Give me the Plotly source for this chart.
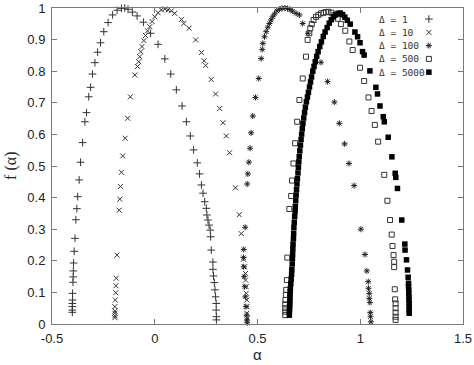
import plotly.graph_objects as go

# ---------------- data ----------------
labels = ["Δ = 1", "Δ = 10", "Δ = 100", "Δ = 500", "Δ = 5000"]

alpha_1 = [-0.401, -0.401, -0.401, -0.401, -0.400, -0.400, -0.398, -0.397, -0.396, -0.395,
           -0.392, -0.388, -0.384, -0.379, -0.375, -0.368, -0.361, -0.351, -0.340, -0.332,
           -0.321, -0.312, -0.303, -0.291, -0.278, -0.264, -0.248, -0.227, -0.205, -0.183,
           -0.162, -0.146,
           -0.130, -0.109, -0.086, -0.055, -0.020, 0.016, 0.049, 0.078, 0.105, 0.133,
           0.154, 0.173, 0.189, 0.207, 0.218, 0.227, 0.235, 0.243, 0.251, 0.254,
           0.259, 0.264, 0.270, 0.272, 0.275, 0.283, 0.283, 0.286, 0.290, 0.293,
           0.296, 0.299, 0.299, 0.300, 0.300]
f_1 = [0.037, 0.044, 0.055, 0.065, 0.076, 0.097, 0.132, 0.149, 0.168, 0.193,
       0.230, 0.271, 0.330, 0.365, 0.403, 0.456, 0.512, 0.574, 0.640, 0.669,
       0.719, 0.749, 0.791, 0.827, 0.860, 0.890, 0.925, 0.954, 0.978, 0.993,
       0.999, 1.000,
       0.996, 0.987, 0.975, 0.955, 0.920, 0.885, 0.839, 0.791, 0.741, 0.690,
       0.640, 0.595, 0.551, 0.510, 0.475, 0.440, 0.414, 0.387, 0.366, 0.345,
       0.329, 0.313, 0.297, 0.276, 0.234, 0.196, 0.173, 0.152, 0.131, 0.108,
       0.086, 0.065, 0.044, 0.023, 0.013]

alpha_10 = [-0.194, -0.194, -0.194, -0.194, -0.194, -0.192, -0.190, -0.189, -0.187, -0.184,
            -0.173, -0.170, -0.167, -0.162, -0.156, -0.144, -0.132, -0.119, -0.097, -0.084,
            -0.078, -0.073, -0.068, -0.062, -0.053, -0.045, -0.035, -0.024, -0.013, 0.000,
            0.016, 0.032, 0.049,
            0.065, 0.081, 0.097, 0.130, 0.141, 0.167, 0.199, 0.227, 0.240, 0.248,
            0.275, 0.296, 0.316, 0.332, 0.348, 0.364, 0.393, 0.411, 0.421, 0.432,
            0.437, 0.442, 0.442, 0.445, 0.445, 0.448, 0.448, 0.448, 0.450]
f_10 = [0.020, 0.026, 0.034, 0.041, 0.055, 0.076, 0.099, 0.121, 0.145, 0.218,
        0.360, 0.395, 0.435, 0.480, 0.532, 0.588, 0.651, 0.719, 0.788, 0.815,
        0.830, 0.846, 0.862, 0.878, 0.897, 0.913, 0.928, 0.941, 0.957, 0.972,
        0.985, 0.994, 0.997,
        0.994, 0.991, 0.983, 0.964, 0.951, 0.936, 0.899, 0.859, 0.833, 0.818,
        0.774, 0.728, 0.682, 0.637, 0.595, 0.542, 0.431, 0.346, 0.286, 0.205,
        0.181, 0.160, 0.139, 0.118, 0.097, 0.076, 0.055, 0.034, 0.018]

alpha_100 = [0.450, 0.449, 0.447, 0.444, 0.441, 0.438, 0.435, 0.433, 0.432, 0.433,
             0.440, 0.450, 0.453, 0.458, 0.464, 0.469, 0.477, 0.490, 0.506, 0.518,
             0.523, 0.526, 0.534, 0.542, 0.550, 0.558, 0.566, 0.574, 0.583, 0.594,
             0.607, 0.620, 0.633, 0.646, 0.659,
             0.671, 0.688, 0.704, 0.720, 0.746, 0.809, 0.841, 0.874, 0.898, 0.924,
             0.945, 0.970, 1.003, 1.023, 1.032, 1.039, 1.040, 1.044, 1.044, 1.047,
             1.049, 1.050, 1.052]
f_100 = [0.004, 0.013, 0.028, 0.055, 0.086, 0.118, 0.150, 0.181, 0.210, 0.236,
         0.306, 0.443, 0.475, 0.512, 0.556, 0.605, 0.658, 0.717, 0.777, 0.840,
         0.869, 0.888, 0.909, 0.925, 0.939, 0.951, 0.962, 0.972, 0.981, 0.991,
         0.996, 0.999, 1.000, 0.998, 0.995,
         0.990, 0.983, 0.978, 0.951, 0.920, 0.828, 0.767, 0.702, 0.635, 0.570,
         0.508, 0.438, 0.300, 0.220, 0.168, 0.134, 0.113, 0.097, 0.081, 0.068,
         0.036, 0.023, 0.007]

alpha_500 = [0.635, 0.635, 0.635, 0.635, 0.636, 0.638, 0.640, 0.643, 0.645, 0.655,
             0.664, 0.668, 0.675, 0.683, 0.693, 0.704, 0.720, 0.736, 0.744, 0.752,
             0.757, 0.764, 0.773, 0.785, 0.796, 0.809, 0.822, 0.833, 0.845,
             0.860, 0.875, 0.890, 0.906, 0.927, 0.947, 0.963, 0.999, 1.019, 1.040,
             1.055, 1.071, 1.087, 1.117, 1.132, 1.145, 1.153, 1.157, 1.162, 1.165,
             1.165, 1.168, 1.170, 1.172, 1.172, 1.172, 1.172, 1.172]
f_500 = [0.028, 0.039, 0.050, 0.062, 0.076, 0.092, 0.108, 0.139, 0.210, 0.364,
         0.405, 0.454, 0.508, 0.572, 0.640, 0.709, 0.777, 0.846, 0.899, 0.920,
         0.936, 0.949, 0.962, 0.972, 0.978, 0.983, 0.985, 0.987, 0.988,
         0.985, 0.978, 0.966, 0.949, 0.928, 0.894, 0.867, 0.811, 0.769, 0.717,
         0.674, 0.630, 0.577, 0.472, 0.390, 0.329, 0.283, 0.247, 0.218, 0.197,
         0.180, 0.110, 0.078, 0.065, 0.050, 0.036, 0.023, 0.013]

alpha_5000 = [0.655, 0.655, 0.656, 0.656, 0.657, 0.657, 0.658, 0.658, 0.659, 0.660,
              0.662, 0.664, 0.666, 0.667, 0.669, 0.670, 0.671, 0.672, 0.673, 0.675,
              0.676, 0.677, 0.679, 0.681, 0.683, 0.684, 0.686, 0.688, 0.690, 0.692,
              0.694, 0.697, 0.699, 0.701, 0.703, 0.706, 0.709, 0.712, 0.715, 0.718,
              0.721, 0.725, 0.729, 0.733, 0.738, 0.743, 0.748, 0.753, 0.758, 0.763,
              0.769, 0.775, 0.781, 0.788, 0.795, 0.803, 0.811, 0.820, 0.829, 0.839,
              0.849, 0.859, 0.870, 0.881, 0.892, 0.903,
              0.914, 0.925, 0.937, 0.951, 0.974, 0.987, 0.999, 1.011, 1.019, 1.047,
              1.076, 1.084, 1.096, 1.112, 1.117, 1.136, 1.154, 1.170, 1.173, 1.181,
              1.202, 1.217, 1.218, 1.225, 1.230, 1.233, 1.235, 1.235, 1.236, 1.236,
              1.237, 1.237, 1.238, 1.238, 1.238, 1.238]
f_5000 = [0.028, 0.037, 0.046, 0.055, 0.064, 0.073, 0.083, 0.093, 0.103, 0.113,
          0.128, 0.142, 0.157, 0.172, 0.190, 0.207, 0.222, 0.238, 0.253, 0.270,
          0.287, 0.305, 0.322, 0.340, 0.357, 0.372, 0.390, 0.408, 0.425, 0.443,
          0.460, 0.478, 0.496, 0.513, 0.530, 0.548, 0.566, 0.584, 0.601, 0.618,
          0.635, 0.652, 0.669, 0.686, 0.703, 0.718, 0.733, 0.750, 0.766, 0.782,
          0.800, 0.815, 0.830, 0.847, 0.862, 0.878, 0.893, 0.910, 0.924, 0.938,
          0.952, 0.963, 0.972, 0.979, 0.983, 0.984,
          0.979, 0.971, 0.961, 0.949, 0.924, 0.909, 0.890, 0.862, 0.851, 0.801,
          0.749, 0.728, 0.690, 0.656, 0.640, 0.591, 0.529, 0.477, 0.464, 0.429,
          0.329, 0.253, 0.234, 0.203, 0.171, 0.148, 0.129, 0.118, 0.108, 0.097,
          0.086, 0.076, 0.065, 0.055, 0.044, 0.034]

x_ticks = [-0.5, 0, 0.5, 1, 1.5]
x_ticktext = ["-0.5", "0", "0.5", "1", "1.5"]
y_ticks = [0, 0.1, 0.2, 0.3, 0.4, 0.5, 0.6, 0.7, 0.8, 0.9, 1]
y_ticktext = ["0", "0.1", "0.2", "0.3", "0.4", "0.5", "0.6", "0.7", "0.8", "0.9", "1"]
x_title = "α"
y_title = "f (α)"

# ---------------- styles ----------------
series = [
    (alpha_1, f_1, dict(symbol="cross-thin-open", size=5.5, color="#333", line=dict(width=1, color="#333"))),
    (alpha_10, f_10, dict(symbol="x-thin-open", size=5, color="#333", line=dict(width=1, color="#333"))),
    (alpha_100, f_100, dict(symbol="asterisk-open", size=5, color="#222", line=dict(width=1, color="#222"))),
    (alpha_500, f_500, dict(symbol="square-open", size=5, color="#333", line=dict(width=1, color="#333"))),
    (alpha_5000, f_5000, dict(symbol="square", size=5.5, color="#000", line=dict(width=0))),
]

fig = go.Figure()
for (xs, ys, mk), name in zip(series, labels):
    fig.add_trace(go.Scatter(x=xs, y=ys, mode="markers", marker=mk, name=name,
                             showlegend=False, cliponaxis=False, hoverinfo="skip"))

# legend (keys on an overlay 0..1 axis, text as annotations)
key_x = 0.917
text_x = 0.791
row_y = [0.965, 0.923, 0.881, 0.839, 0.797]
for (xs, ys, mk), name, ry in zip(series, labels, row_y):
    fig.add_trace(go.Scatter(x=[key_x], y=[ry], xaxis="x2", yaxis="y2", mode="markers",
                             marker=mk, showlegend=False, hoverinfo="skip"))
    fig.add_annotation(x=text_x, y=ry, xref="paper", yref="paper", text=name,
                       showarrow=False, xanchor="left", yanchor="middle",
                       font=dict(family="DejaVu Sans Mono", size=9.5, color="#333"))

# axis titles
fig.add_annotation(x=0.5, y=-0.1297, xref="paper", yref="paper", text=x_title,
                   showarrow=False, xanchor="center", yanchor="bottom",
                   font=dict(family="Liberation Sans, Arial", size=15, color="#222"))
fig.add_annotation(x=-0.1, y=0.5, xref="paper", yref="paper", text=y_title,
                   showarrow=False, xanchor="center", yanchor="middle", textangle=-90,
                   font=dict(family="Liberation Serif, serif", size=16, color="#222"))

axis_common = dict(showgrid=False, zeroline=False, showline=True, linecolor="#7a7a7a",
                   linewidth=1, mirror="ticks", ticks="inside", ticklen=5,
                   tickcolor="#7a7a7a", tickwidth=1, automargin=False,
                   tickfont=dict(family="Liberation Sans, Arial", size=13, color="#222"))

fig.update_layout(
    width=474, height=365,
    margin=dict(l=52, r=11, t=8, b=41),
    paper_bgcolor="white", plot_bgcolor="white",
    showlegend=False,
    xaxis=dict(range=[-0.5, 1.5], tickvals=x_ticks, ticktext=x_ticktext,
               ticklabelstandoff=2, **axis_common),
    yaxis=dict(range=[0, 1], tickvals=y_ticks, ticktext=y_ticktext,
               ticklabelstandoff=3, **axis_common),
    xaxis2=dict(overlaying="x", range=[0, 1], visible=False, anchor="y2"),
    yaxis2=dict(overlaying="y", range=[0, 1], visible=False, anchor="x2"),
)

fig.write_html("out.html", config={"displayModeBar": False},
               post_script="document.body.style.margin='0';document.body.style.padding='0';")
